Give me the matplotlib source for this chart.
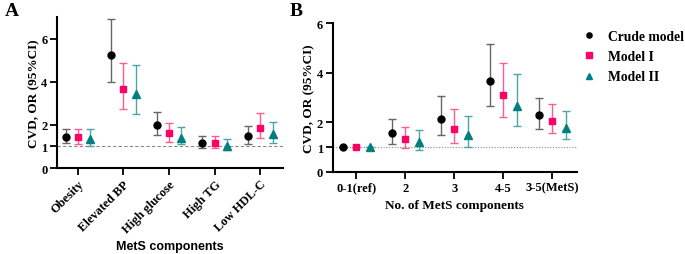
import numpy as np
import matplotlib.pyplot as plt

plt.rcParams['font.family'] = ['Liberation Serif', 'DejaVu Serif']
plt.rcParams['font.weight'] = 'bold'

# Panel A data
comp_labels = ['Obesity', 'Elevated BP', 'High glucose', 'High TG', 'Low HDL-C']
a_crude = [1.46, 5.24, 1.99, 1.15, 1.49]
a_crude_lo = [1.15, 4.00, 1.54, 0.92, 1.13]
a_crude_hi = [1.80, 6.89, 2.60, 1.48, 1.94]
a_m1 = [1.43, 3.65, 1.62, 1.17, 1.88]
a_m1_lo = [1.12, 2.75, 1.23, 0.95, 1.38]
a_m1_hi = [1.82, 4.88, 2.11, 1.51, 2.55]
a_m2 = [1.35, 3.42, 1.41, 1.03, 1.59]
a_m2_lo = [1.04, 2.49, 1.10, 0.84, 1.15]
a_m2_hi = [1.80, 4.79, 1.90, 1.35, 2.13]

# Panel B data
num_labels = ['0-1(ref)', '2', '3', '4-5', '3-5(MetS)']
b_crude = [1.0, 1.57, 2.13, 3.67, 2.30]
b_crude_lo = [1.0, 1.14, 1.48, 2.64, 1.75]
b_crude_hi = [1.0, 2.13, 3.06, 5.15, 2.99]
b_m1 = [1.0, 1.33, 1.74, 3.11, 2.06]
b_m1_lo = [1.0, 0.97, 1.18, 2.21, 1.59]
b_m1_hi = [1.0, 1.83, 2.54, 4.39, 2.72]
b_m2 = [1.0, 1.20, 1.51, 2.66, 1.78]
b_m2_lo = [1.0, 0.89, 1.02, 1.84, 1.33]
b_m2_hi = [1.0, 1.68, 2.27, 3.93, 2.45]

models = [
    ('Crude model', 'o', 'black', '#666666', -0.27),
    ('Model I', 's', '#FF0066', '#FF5C93', 0.0),
    ('Model II', '^', '#007F7F', '#4DA6A6', 0.27),
]

fig = plt.figure(figsize=(6.85, 2.55), dpi=100)
axA = fig.add_axes([0.0837, 0.337, 0.3295, 0.592])
axB = fig.add_axes([0.486, 0.3216, 0.356, 0.584])


def draw(ax, series, xlim, ylim, ref_style):
    x = np.arange(5)
    handles = []
    for (name, mk, col, ecol, off), (v, lo, hi) in zip(models, series):
        v = np.array(v); lo = np.array(lo); hi = np.array(hi)
        ax.errorbar(x + off, v, yerr=[v - lo, hi - v], fmt='none', ecolor=ecol,
                    elinewidth=1.0, capsize=2.8, capthick=1.0, zorder=2)
        h = ax.plot(x + off, v, linestyle='none', marker=mk, color=col,
                    markersize=5 if mk != '^' else 5.5, zorder=3, label=name)[0]
        handles.append(h)
    ax.axhline(1, color='#888888', lw=0.8, **ref_style, zorder=1)
    ax.set_xlim(*xlim)
    ax.set_ylim(*ylim)
    ax.set_yticks([0, 1, 2, 4, 6])
    ax.set_xticks(x)
    for s in ['top', 'right']:
        ax.spines[s].set_visible(False)
    for s in ['left', 'bottom']:
        ax.spines[s].set_linewidth(1.5)
    ax.tick_params(width=1.3, length=5, labelsize=9, pad=2)
    ax.set_ylabel('CVD, OR (95%CI)', fontsize=9.5, fontweight='bold', labelpad=1)
    return handles


draw(axA, [(a_crude, a_crude_lo, a_crude_hi), (a_m1, a_m1_lo, a_m1_hi), (a_m2, a_m2_lo, a_m2_hi)],
     (-0.45, 4.5), (0, 7), dict(linestyle=(0, (3, 2))))
axA.set_xticklabels(comp_labels, rotation=45, ha='right', rotation_mode='anchor', fontsize=9)
axA.set_xlabel('MetS components', fontsize=9, fontweight='bold',
               family=['Liberation Sans', 'DejaVu Sans'], labelpad=4)

handles = draw(axB, [(b_crude, b_crude_lo, b_crude_hi), (b_m1, b_m1_lo, b_m1_hi), (b_m2, b_m2_lo, b_m2_hi)],
               (-0.48, 4.5), (0, 6), dict(linestyle=(0, (1, 1.5))))
axB.set_xticklabels(num_labels, fontsize=9)
axB.set_xlabel('No. of MetS components', fontsize=9.5, fontweight='bold', labelpad=4)

fig.legend(handles=handles, loc='upper left', bbox_to_anchor=(0.833, 0.926), frameon=False,
           markerscale=0.75, handlelength=0.9, handletextpad=0.95,
           labelspacing=0.52, prop={'weight': 'bold', 'size': 9.8})

fig.text(0.007, 0.99, 'A', fontsize=14, fontweight='bold', va='top')
fig.text(0.423, 0.99, 'B', fontsize=14, fontweight='bold', va='top')

fig.savefig('out.png', dpi=100)
